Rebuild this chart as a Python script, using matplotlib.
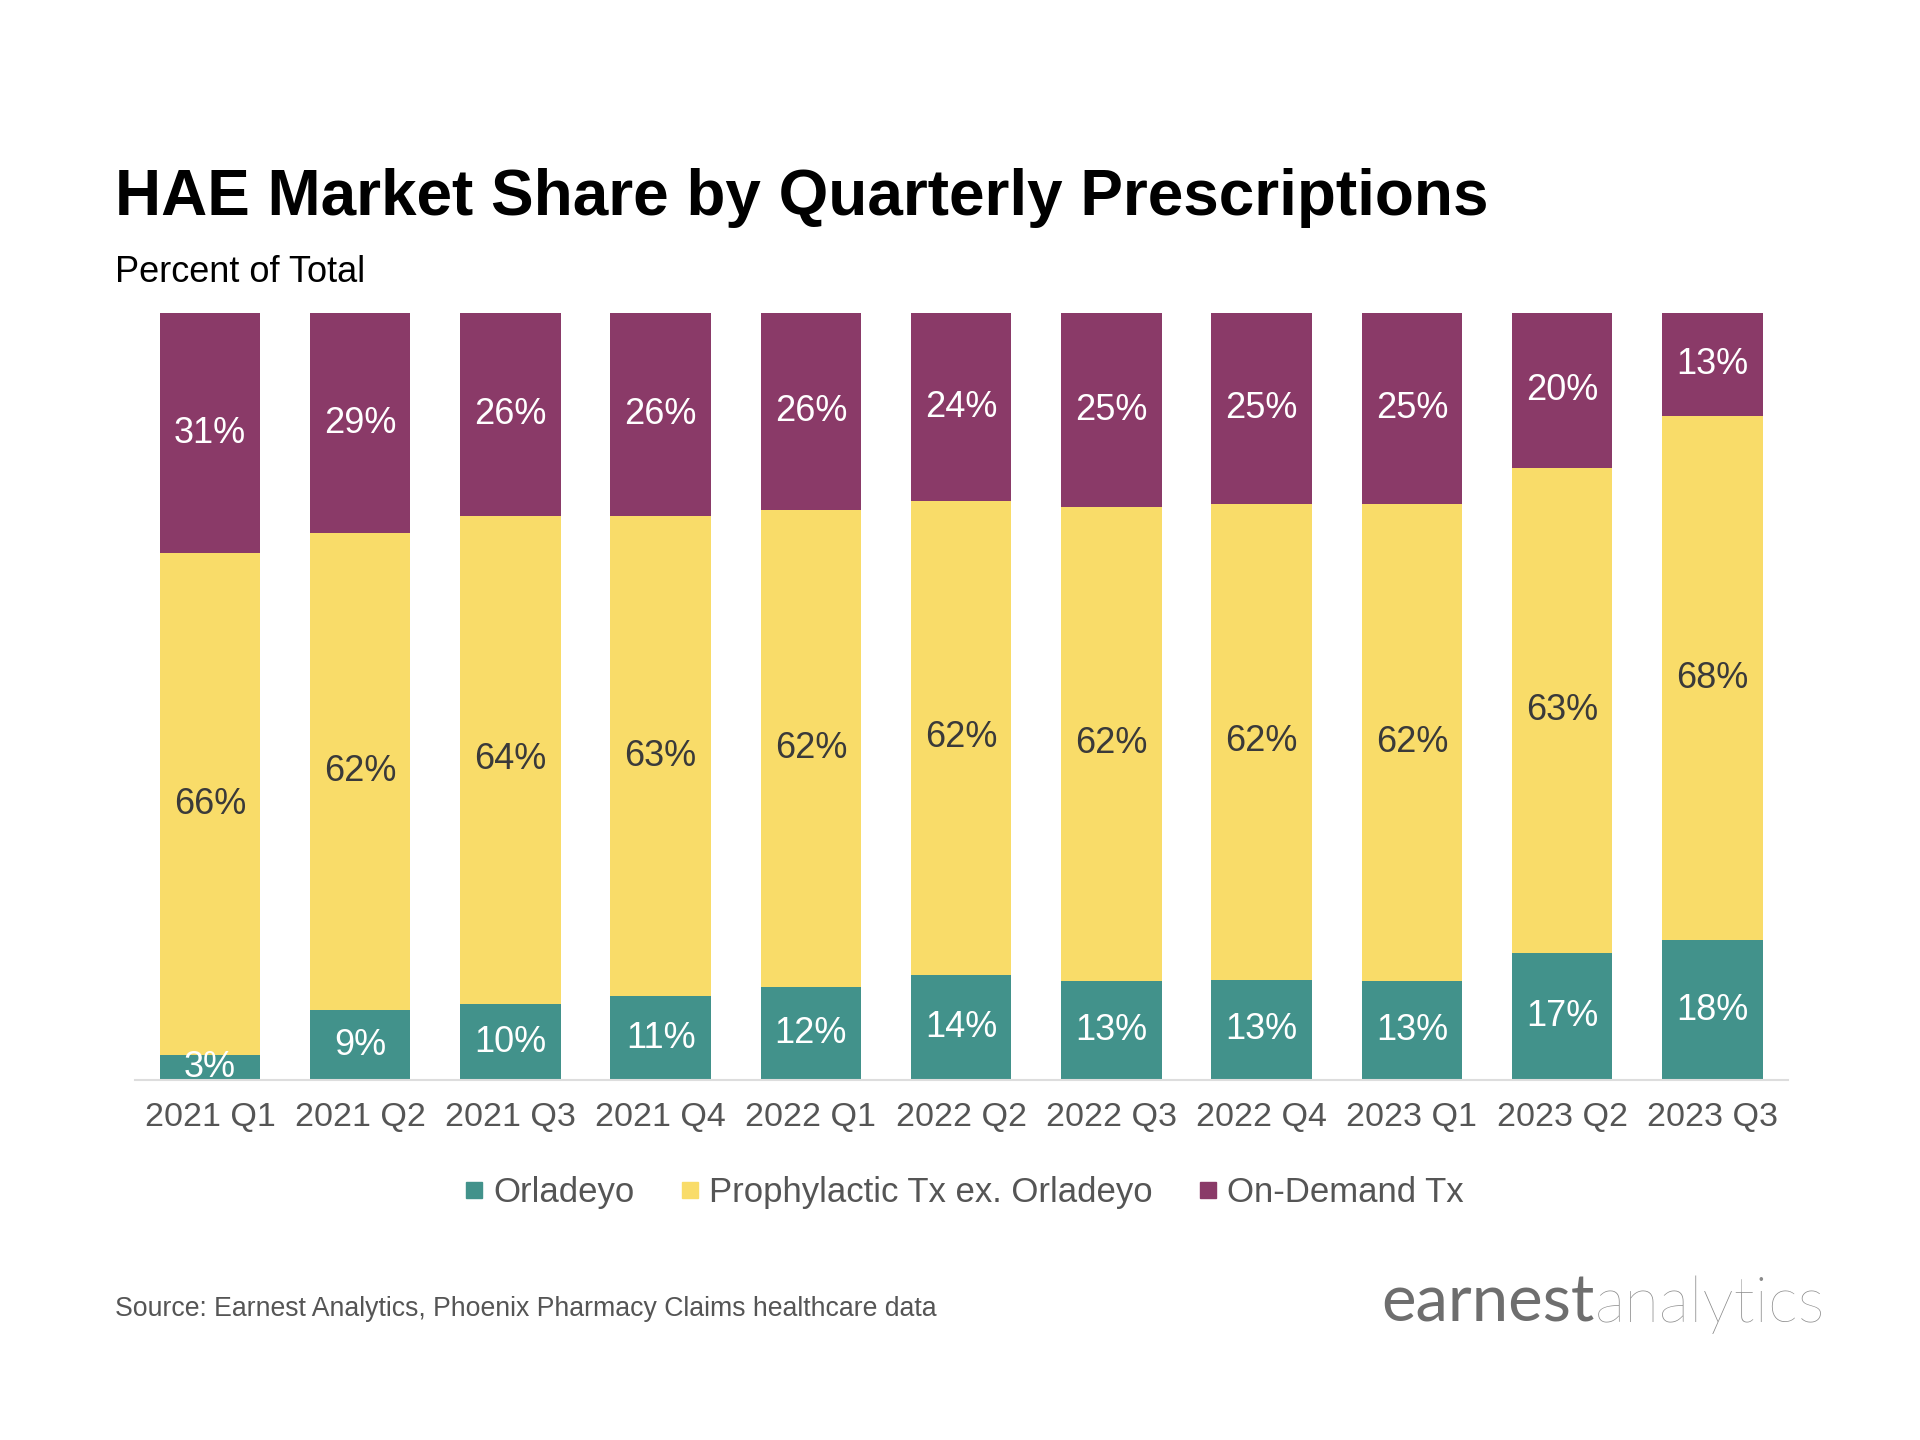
"""
HAE market share by quarterly prescriptions, stacked percent bars.
"""

import numpy as np
import matplotlib
matplotlib.use("Agg")
import matplotlib.pyplot as plt

quarters = ["2021 Q1", "2021 Q2", "2021 Q3", "2021 Q4", "2022 Q1", "2022 Q2",
            "2022 Q3", "2022 Q4", "2023 Q1", "2023 Q2", "2023 Q3"]
orladeyo = [3.2, 9.1, 9.9, 10.9, 12.1, 13.7, 12.9, 13.1, 12.9, 16.6, 18.2]
prophylactic = [65.6, 62.3, 63.7, 62.7, 62.2, 61.9, 61.9, 62.0, 62.3, 63.3, 68.4]
on_demand = [31.2, 28.6, 26.4, 26.4, 25.7, 24.4, 25.2, 24.9, 24.8, 20.1, 13.4]
series_names = ["Orladeyo", "Prophylactic Tx ex. Orladeyo", "On-Demand Tx"]

colors = ["#42928B", "#F9DC69", "#8A3A68"]
label_colors = ["white", "#3a3a3a", "white"]

plt.rcParams["font.family"] = ["Liberation Sans", "DejaVu Sans"]

fig = plt.figure(figsize=(19.2, 14.4), dpi=100)
ax = fig.add_axes([0.0702, 0.25, 0.8608, 0.5323])

x = np.arange(len(quarters))
bottom = np.zeros(len(quarters))
for vals, name, col, lcol in zip([orladeyo, prophylactic, on_demand],
                                 series_names, colors, label_colors):
    vals = np.array(vals)
    ax.bar(x, vals, 0.668, bottom=bottom, color=col, label=name, linewidth=0)
    for xi, b, v in zip(x, bottom, vals):
        ax.text(xi, b + v / 2, f"{v:.0f}%", ha="center", va="center",
                fontsize=26, color=lcol)
    bottom += vals

ax.set_xlim(-0.5, len(quarters) - 0.5)
ax.set_ylim(0, 100)
ax.set_xticks(x)
ax.set_xticklabels(quarters, fontsize=24.5, color="#555555")
ax.tick_params(axis="x", length=0, pad=16)
ax.set_yticks([])
for side in ["top", "right", "left"]:
    ax.spines[side].set_visible(False)
ax.spines["bottom"].set_color("#dddddd")
ax.spines["bottom"].set_linewidth(1.5)

handles = [plt.Line2D([], [], marker="s", linestyle="", markersize=11,
                      color=c) for c in colors]
fig.legend(handles, series_names, loc="center", bbox_to_anchor=(0.502, 0.172),
           ncol=3, frameon=False, fontsize=25, handlelength=0.6,
           handletextpad=0.25, columnspacing=1.3, labelcolor="#555555")

fig.text(0.06, 0.851, "HAE Market Share by Quarterly Prescriptions",
         fontsize=46, fontweight="bold", color="black", va="baseline")
fig.text(0.06, 0.8044, "Percent of Total", fontsize=26, color="black",
         va="baseline")
fig.text(0.06, 0.086, "Source: Earnest Analytics, Phoenix Pharmacy Claims healthcare data",
         fontsize=19.2, color="#555555", va="baseline")

fig.text(0.8307, 0.082, "earnest", fontsize=47, color="#6e6e6e",
         family=["Lato", "DejaVu Sans"], ha="right", va="baseline")
fig.text(0.8307, 0.082, "analytics", fontsize=46, color="#8a8a8a",
         family=["Lato", "DejaVu Sans"], fontweight="light", ha="left",
         va="baseline")

fig.savefig("out.png", dpi=100, facecolor="white")
